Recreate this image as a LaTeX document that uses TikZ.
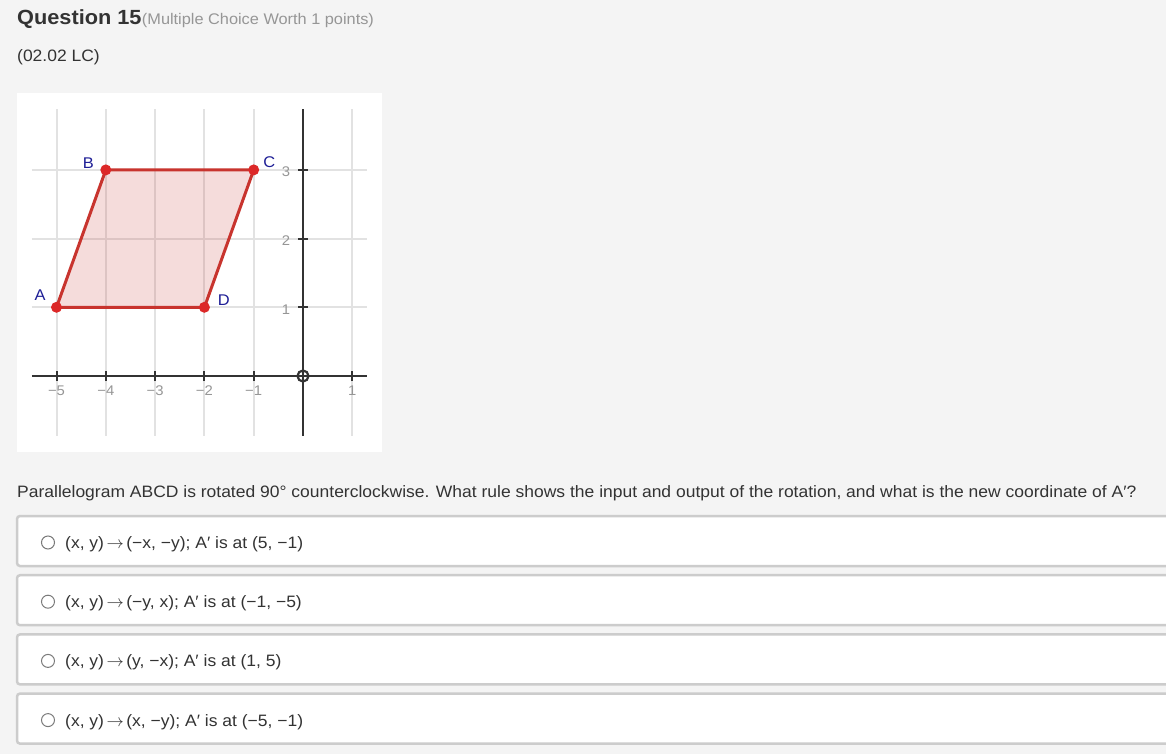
\documentclass[tikz,border=0pt]{standalone}
\usepackage{fontspec}
\setmainfont[FakeStretch=1.06]{Liberation Sans}
\usepackage{tikz}
\definecolor{pagebg}{RGB}{244,244,244}
\definecolor{textdark}{RGB}{51,51,51}
\definecolor{textgray}{RGB}{150,150,150}
\definecolor{boxline}{RGB}{204,204,204}
\definecolor{gridgray}{RGB}{226,226,226}
\definecolor{axisdark}{RGB}{51,51,51}
\definecolor{shapered}{RGB}{200,52,46}
\definecolor{dotred}{RGB}{220,40,40}
\definecolor{ptblue}{RGB}{30,30,150}

\newcommand{\maparrow}{\kern2.5pt$\rightarrow$\kern2.5pt}

\tikzset{
  qtext/.style={anchor=base west, inner sep=0pt, text=textdark, font=\fontsize{16.5}{19}\selectfont},
  optbox/.style={draw=boxline, line width=2.5pt, fill=white, rounded corners=3pt},
  radio/.style={circle, draw=textdark!65, line width=1pt, fill=white, inner sep=0pt, minimum size=13pt},
  ticklabel/.style={text=textgray, font=\fontsize{14}{16}\selectfont, inner sep=0pt},
  ptlabel/.style={text=ptblue, font=\fontsize{15.5}{18}\selectfont, inner sep=0pt},
  vertexdot/.style={circle, fill=dotred, inner sep=0pt, minimum size=11pt},
}

\begin{document}
\begin{tikzpicture}[x=1pt,y=-1pt]
\clip (0,0) rectangle (1166,754);
\fill[pagebg] (0,0) rectangle (1166,754);
% Header
\node[qtext, font=\bfseries\fontsize{20.5}{25}\selectfont] (qnum) at (17,25) {Question 15};
\node[qtext, text=textgray, font=\fontsize{15.4}{18}\selectfont] (worth) at (qnum.base east) {(Multiple Choice Worth 1 points)};
\node[qtext, font=\fontsize{16.5}{19}\selectfont] (code) at (17,62) {(02.02 LC)};

% Graph panel
\fill[white] (17,93) rectangle (382,452);
\begin{scope}[xshift=303pt, yshift=-376pt, x=49.3pt, y=68.7pt]
% Grid
\foreach \x in {-5,...,1}
    \draw[gridgray, line width=2pt] (\x,-0.873) -- (\x,3.886);
\foreach \y in {1,2,3}
    \draw[gridgray, line width=2pt] (-5.5,\y) -- (1.3,\y);
% Parallelogram
\coordinate (A) at (-5,1);
\coordinate (B) at (-4,3);
\coordinate (C) at (-1,3);
\coordinate (D) at (-2,1);
\fill[shapered, fill opacity=0.17] (A) -- (B) -- (C) -- (D) -- cycle;
% Axes
\draw[axisdark, line width=2.5pt] (-5.5,0) -- (1.3,0);
\draw[axisdark, line width=2.5pt] (0,-0.873) -- (0,3.886);
\foreach \x in {-5,...,-1,1}
    \draw[axisdark, line width=2pt] (\x,0) ++(0,-5pt) -- ++(0,10pt);
\foreach \y in {1,2,3}
    \draw[axisdark, line width=2pt] (0,\y) ++(-5pt,0) -- ++(10pt,0);
\draw[axisdark, line width=2.2pt] (0,0) circle (5.5pt);
% Numbers
\foreach \x in {-5,...,-1,1}
    \node[ticklabel] (xl\x) at ([yshift=-15pt]\x,0) {\ifnum\x<0 −\the\numexpr-\x\relax\else\x\fi};
\foreach \y in {1,2,3}
    \node[ticklabel] (yl\y) at ([shift={(-17pt,-2pt)}]0,\y) {\y};
% Edges and vertices
\draw[shapered, line width=3pt, line join=round] (A) -- (B) -- (C) -- (D) -- cycle;
\foreach \p in {A,B,C,D}
    \node[vertexdot] (dot\p) at (\p) {};
\node[ptlabel] (labA) at ([shift={(-16.5pt,12.5pt)}]A) {A};
\node[ptlabel] (labB) at ([shift={(-17.5pt,7pt)}]B) {B};
\node[ptlabel] (labC) at ([shift={(15.5pt,8pt)}]C) {C};
\node[ptlabel] (labD) at ([shift={(19.5pt,7pt)}]D) {D};
\end{scope}

% Question
\node[qtext] (question) at (17,497) {Parallelogram ABCD is rotated 90° counterclockwise. What rule shows the input and output of the rotation, and what is the new coordinate of A′?};

% Answer choices
\foreach \i/\txt in {1/{(x, y)\maparrow(−x, −y); A′ is at (5, −1)},
                     2/{(x, y)\maparrow(−y, x); A′ is at (−1, −5)},
                     3/{(x, y)\maparrow(y, −x); A′ is at (1, 5)},
                     4/{(x, y)\maparrow(x, −y); A′ is at (−5, −1)}} {
    \pgfmathsetmacro\boxtop{516+59.2*(\i-1)}
    \draw[optbox] (17,\boxtop) rectangle (1180,\boxtop+50);
    \node[radio] (radio\i) at (48,\boxtop+26.5) {};
    \node[qtext] (opt\i) at (65,\boxtop+32.5) {\txt};
}
\end{tikzpicture}
\end{document}
